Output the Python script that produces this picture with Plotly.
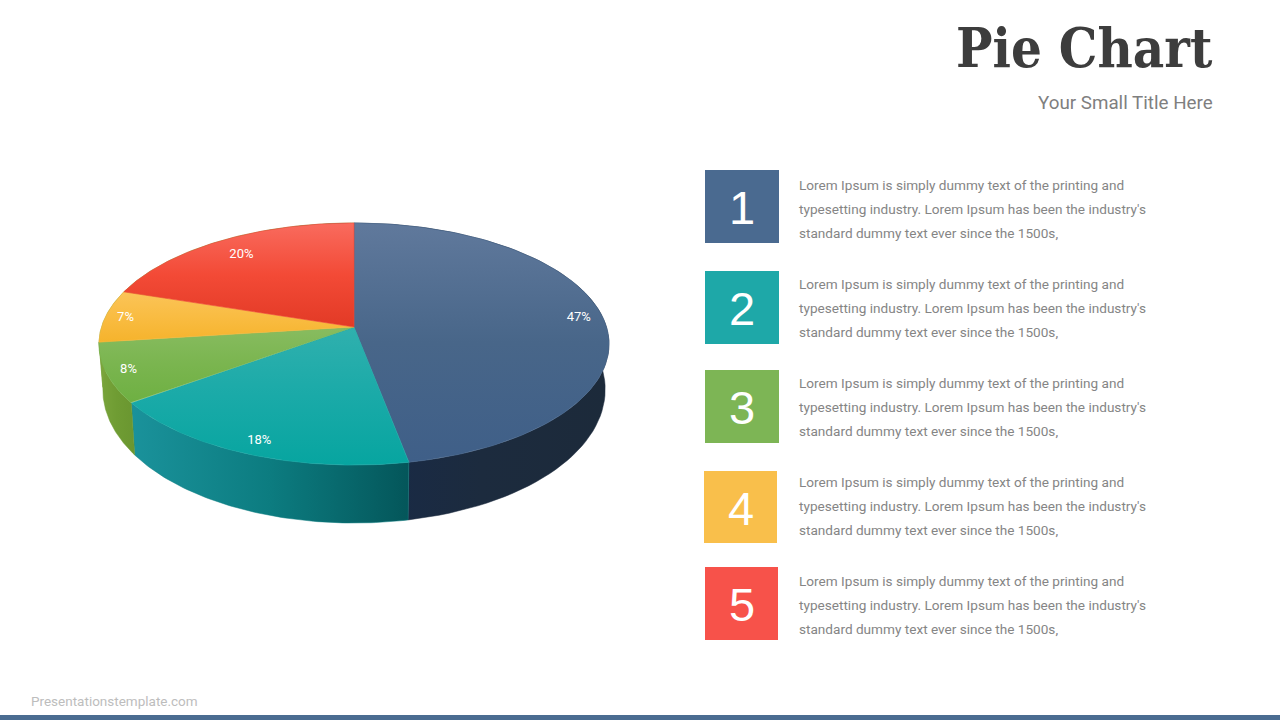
import numpy as np
import plotly.graph_objects as go

# ---- data ----
shares = [47, 18, 8, 7, 20]
share_labels = ["47%", "18%", "8%", "7%", "20%"]
label_radius = [0.905, 0.9, 0.915, 0.92, 0.83]
top_colors = [["#60799c", "#486689", "#3f5f88"], ["#30b0ae", "#1aaaa8", "#07a5a0"],
              ["#88bc60", "#7ab54f", "#6eb042"], ["#fbc458", "#f9bc42", "#f5b32c"],
              ["#f96b5e", "#f34a36", "#e23a26"]]
edge_colors = ["#4a6a90", "#1aaaa6", "#7bb650", "#f8bb42", "#ee4a38"]
side_colors = [["#182a48", "#1c2b3e", "#1c2a3a"], ["#1a929b", "#0c7c80", "#04565a"],
               ["#7aa53c", "#6f9c33", "#6a9630"], ["#7aa53c", "#7aa53c", "#7aa53c"],
               ["#7aa53c", "#7aa53c", "#1c2a3a"]]
numbers = ["1", "2", "3", "4", "5"]
box_colors = ["#4a6a90", "#1ea8a8", "#7db555", "#f9bf4b", "#f7524a"]
box_left = [705, 705, 705, 704, 705]
box_right = [779, 779, 779, 777, 778]
box_top = [170, 271, 370, 471, 567]
box_bottom = [243, 344, 443, 543, 640]
text_y = [185, 284, 383, 482, 581]
body_lines = ["Lorem Ipsum is simply dummy text of the printing and",
              "typesetting industry. Lorem Ipsum has been the industry's",
              "standard dummy text ever since the 1500s,"]
title = "Pie Chart"
subtitle = "Your Small Title Here"
footer = "Presentationstemplate.com"

# ---- perspective disc projection ----
CX, K, A, B, C = 354.0, 252.5, 72.7, 327.0, -0.1405


def top_xy(t, r=1.0):
    t = np.asarray(t)
    u, v = r * np.sin(t), -r * np.cos(t)
    d = 1 + C * v
    return CX + K * u / d, (A * v + B) / d


def bottom_xy(t):
    x, y = top_xy(t)
    v = -np.cos(t)
    return CX + 0.985 * (x - CX), y + 43.4 + 14.6 * v


fig = go.Figure()
edges = np.cumsum([0] + shares) / sum(shares) * 2 * np.pi

# side walls first, then the top faces
for i in range(len(shares)):
    t = np.linspace(edges[i], edges[i + 1], 80)
    xt, yt = top_xy(t)
    xb, yb = bottom_xy(t)
    stops = side_colors[i]
    fig.add_trace(go.Scatter(
        x=np.r_[xt, xb[::-1], xt[0]], y=np.r_[yt, yb[::-1], yt[0]],
        mode="lines", line=dict(width=0.5, color=stops[1]), fill="toself", hoverinfo="skip", showlegend=False,
        fillgradient=dict(type="horizontal",
                          colorscale=[[0, stops[0]], [0.5, stops[1]], [1, stops[2]]])))
for i in range(len(shares)):
    t = np.linspace(edges[i], edges[i + 1], 120)
    xt, yt = top_xy(t)
    c = top_colors[i]
    fig.add_trace(go.Scatter(
        x=np.r_[CX, xt, CX], y=np.r_[B, yt, B],
        mode="lines", line=dict(width=0.6, color=edge_colors[i]), fill="toself", hoverinfo="skip", showlegend=False,
        fillgradient=dict(type="vertical",
                          colorscale=[[0, c[2]], [0.5, c[1]], [1, c[0]]])))

mid = (edges[:-1] + edges[1:]) / 2
lx, ly = top_xy(mid, np.array(label_radius))
fig.add_trace(go.Scatter(x=lx, y=ly + 1, mode="text", text=share_labels, hoverinfo="skip", showlegend=False,
                         textposition="middle center",
                         textfont=dict(family="Roboto", size=13, color="#ffffff")))

shapes = [dict(type="rect", xref="x", yref="y", x0=0, x1=1280, y0=715, y1=720,
               fillcolor="#4a6c91", line_width=0)]
ann = []
def note(x, y, s, size, color, anchor="left", family="Roboto", weight=None):
    f = dict(family=family, size=size, color=color)
    if weight:
        f["weight"] = weight
    ann.append(dict(x=x, y=y, xref="x", yref="y", text=s, showarrow=False, xanchor=anchor,
                    yanchor="middle", font=f))

for i in range(5):
    shapes.append(dict(type="rect", xref="x", yref="y", x0=box_left[i], x1=box_right[i],
                       y0=box_top[i], y1=box_bottom[i], fillcolor=box_colors[i], line_width=0))
    note((box_left[i] + box_right[i]) / 2, (box_top[i] + box_bottom[i]) / 2 + 1, numbers[i], 47,
         "#ffffff", "center", "Liberation Sans")
    for j, line in enumerate(body_lines):
        note(796.5, text_y[i] + 24 * j - 0.5, line, 13.6, "#858585")

note(1215, 48, title, 54, "#3d3d3d", "right", "DejaVu Serif Condensed", "bold")
note(1215, 102.5, subtitle, 18.8, "#7f7f7f", "right")
note(28.5, 700.5, footer, 13.5, "#bdbdbd")

fig.update_layout(
    width=1280, height=720, margin=dict(l=0, r=0, t=0, b=0),
    paper_bgcolor="#ffffff", plot_bgcolor="#ffffff", showlegend=False,
    xaxis=dict(range=[0, 1280], visible=False, fixedrange=True),
    yaxis=dict(range=[720, 0], visible=False, fixedrange=True),
    shapes=shapes, annotations=ann)
fig.write_html("out.html", config={"displayModeBar": False},
               post_script="document.body.style.margin='0';document.documentElement.style.overflow='hidden';")
